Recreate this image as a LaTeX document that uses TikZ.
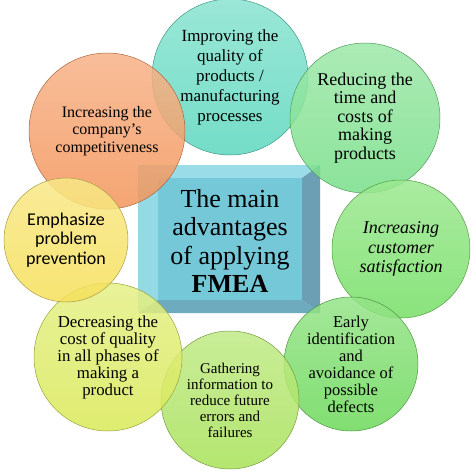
\documentclass[tikz,border=0pt]{standalone}
\usepackage{fontspec}
\setmainfont{Liberation Serif}
\newfontfamily\calibfont{Carlito}
\definecolor{bubteal}{HTML}{5CD8BE}
\definecolor{bubpeach}{HTML}{F4955A}
\definecolor{bubmint}{HTML}{78DF88}
\definecolor{bubgreen}{HTML}{76DF66}
\definecolor{bubleaf}{HTML}{6CD95A}
\definecolor{bublime}{HTML}{A8E258}
\definecolor{bubchart}{HTML}{DAEA58}
\definecolor{bubsun}{HTML}{F6E05A}
\definecolor{boxface}{HTML}{74C8D8}
\definecolor{boxlight}{HTML}{9ADDE8}
\definecolor{boxdark}{HTML}{6C9EB4}

\begin{document}
\begin{tikzpicture}[x=1pt, y=-1pt,
  bubble/.style={circle, inner sep=0pt, align=center, fill opacity=0.85,
    text opacity=1, draw=#1!70!black, line width=0.5pt,
    top color=#1!72!white, bottom color=#1,
    font=\fontsize{17}{20}\selectfont}]
  \fill[white] (0,0) rectangle (474,474);
  \useasboundingbox (0,0) rectangle (474,474);
  % bevelled box in the middle
  \coordinate (bo1) at (138,165); \coordinate (bo2) at (320,165);
  \coordinate (bo3) at (320,313); \coordinate (bo4) at (138,313);
  \coordinate (bi1) at (158,178); \coordinate (bi2) at (302,178);
  \coordinate (bi3) at (302,300); \coordinate (bi4) at (158,300);
  \fill[boxlight] (bo1) -- (bo2) -- (bi2) -- (bi1) -- cycle;
  \fill[boxlight!85!boxface] (bo1) -- (bi1) -- (bi4) -- (bo4) -- cycle;
  \fill[boxdark] (bo2) -- (bo3) -- (bi3) -- (bi2) -- cycle;
  \fill[boxdark!70!boxface] (bo4) -- (bi4) -- (bi3) -- (bo3) -- cycle;
  \fill[boxface] (bi1) rectangle (bi3);
  \node[font=\fontsize{26}{28.5}\selectfont, align=center] (title) at (230,241)
    {The main\\advantages\\of applying\\\textbf{FMEA}};
  % the eight advantages
  \node[bubble=bubteal, minimum size=156pt] (quality) at (230,77)
    {Improving the\\quality of\\products /\\manufacturing\\processes};
  \node[bubble=bubpeach, minimum size=156pt, font=\fontsize{16}{17.5}\selectfont]
    (compete) at (107,131) {Increasing the\\company's\\competitiveness};
  \node[bubble=bubmint, minimum size=150pt, font=\fontsize{18}{18.5}\selectfont]
    (costs) at (365,118) {Reducing the\\time and\\costs of\\making\\products};
  \node[bubble=bubgreen, minimum size=138pt, font=\itshape\fontsize{18}{19.5}\selectfont]
    (custom) at (401,249) {Increasing\\customer\\satisfaction};
  \node[bubble=bubleaf, minimum size=134pt, font=\fontsize{16.5}{17}\selectfont]
    (defect) at (351,364) {Early\\identification\\and\\avoidance of\\possible\\defects};
  \node[bubble=bublime, minimum size=138pt, font=\fontsize{15}{16}\selectfont]
    (inform) at (230,400) {Gathering\\information to\\reduce future\\errors and\\failures};
  \node[bubble=bubchart, minimum size=148pt, font=\fontsize{16.8}{17}\selectfont]
    (phase) at (108,357) {Decreasing the\\cost of quality\\in all phases of\\making a\\product};
  \node[bubble=bubsun, minimum size=124pt, font=\calibfont\fontsize{18}{19.5}\selectfont]
    (prevent) at (66,240) {Emphasize\\problem\\prevention};
\end{tikzpicture}
\end{document}
